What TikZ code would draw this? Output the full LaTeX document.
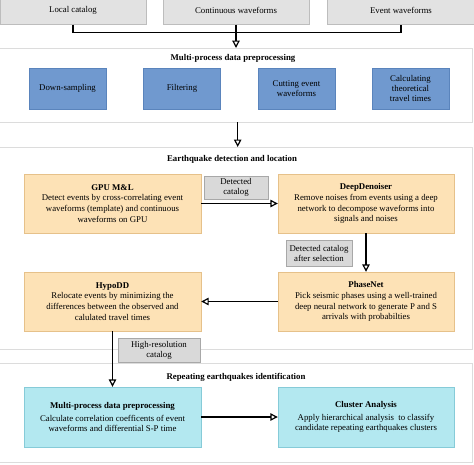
\documentclass[tikz,border=0pt]{standalone}
\usepackage{fontspec}
\setmainfont{Liberation Serif}
\usetikzlibrary{arrows.meta}
\definecolor{topfill}{HTML}{E2E2E2}
\definecolor{topdraw}{HTML}{BDBDBD}
\definecolor{bluefill}{HTML}{7099CF}
\definecolor{bluedraw}{HTML}{5A84BC}
\definecolor{orfill}{HTML}{FDE2B6}
\definecolor{ordraw}{HTML}{E6C18A}
\definecolor{cyfill}{HTML}{B3E8F0}
\definecolor{cydraw}{HTML}{86CBD8}
\definecolor{lblfill}{HTML}{D9D9D9}
\definecolor{lbldraw}{HTML}{A8A8A8}
\definecolor{paneldraw}{HTML}{DCDCDC}
\tikzset{
  every node/.style={font=\fontsize{8.8}{10.8}\selectfont, inner sep=1pt},
  topbox/.style={draw=topdraw, fill=topfill, minimum width=146pt, minimum height=29pt},
  panel/.style={draw=paneldraw, fill=white, anchor=north west},
  ptitle/.style={font=\fontsize{8.8}{10.8}\selectfont\bfseries},
  bluebox/.style={draw=bluedraw, fill=bluefill, minimum width=77pt, minimum height=41pt, align=center, font=\fontsize{8.8}{10.3}\selectfont},
  orbox/.style={draw=ordraw, fill=orfill, minimum width=177pt, minimum height=59pt, align=center},
  cybox/.style={draw=cydraw, fill=cyfill, minimum width=177pt, minimum height=60pt, align=center},
  lbl/.style={draw=lbldraw, fill=lblfill, minimum width=64pt, minimum height=23pt, align=center, font=\fontsize{8.8}{10}\selectfont},
  arr/.style={line width=1.5pt, -{Triangle[open,length=7.5pt,width=7.5pt,line width=1.2pt]}},
  ln/.style={line width=1.5pt}
}
\begin{document}
\begin{tikzpicture}[x=1pt,y=-1pt]
\useasboundingbox (0,0) rectangle (474,464);
\clip (0,0) rectangle (474,464);
% top inputs
\node[topbox] (local) at (73,10) {Local catalog};
\node[topbox] (cont) at (236,10) {Continuous waveforms};
\node[topbox, minimum width=148pt] (event) at (401,10) {Event waveforms};
% panel 1
\node[panel, minimum width=473pt, minimum height=74pt] (p1) at (-1,48) {};
\node[ptitle] (t1) at (233,58) {Multi-process data preprocessing};
\node[bluebox] (down) at (67.5,88.5) {Down-sampling};
\node[bluebox] (filt) at (182,88.5) {Filtering};
\node[bluebox] (cut) at (296.5,88.5) {Cutting event\\waveforms};
\node[bluebox] (calc) at (410.5,88.5) {Calculating\\theoretical\\travel times};
% panel 2
\node[panel, minimum width=473pt, minimum height=202pt] (p2) at (-1,147) {};
\node[ptitle] (t2) at (232,159) {Earthquake detection and location};
\node[orbox] (gpu) at (112.5,203.5) {\textbf{GPU M\&L}\\Detect events by cross-correlating event\\waveforms (template) and continuous\\waveforms on GPU};
\node[orbox, minimum width=176pt] (deep) at (366,203.5) {\textbf{DeepDenoiser}\\Remove noises from events using a deep\\network to decompose waveforms into\\signals and noises};
\node[orbox] (hypo) at (112.5,301.5) {\textbf{HypoDD}\\Relocate events by minimizing the\\differences between the observed and\\calulated travel times};
\node[orbox, minimum width=176pt] (phase) at (366,301.5) {\textbf{PhaseNet}\\Pick seismic phases using a well-trained\\deep neural network to generate P and S\\arrivals with probabilties};
\node[lbl] (l1) at (236,187.5) {Detected\\catalog};
\node[lbl, minimum width=66pt, minimum height=26pt] (l2) at (319,253) {Detected catalog\\after selection};
% panel 3
\node[panel, minimum width=473pt, minimum height=99pt] (p3) at (-1,363) {};
\node[ptitle] (t3) at (236,377) {Repeating earthquakes identification};
\node[cybox] (multi) at (112.5,417) {\textbf{Multi-process data preprocessing}\\[2pt]Calculate correlation coefficents of event\\waveforms and differential S-P time};
\node[cybox, minimum width=176pt] (clus) at (366,417) {\textbf{Cluster Analysis}\\[2pt]Apply hierarchical analysis\ \ to classify\\candidate repeating earthquakes clusters};
\node[lbl, minimum width=82pt, minimum height=24pt] (l3) at (159,350) {High-resolution\\catalog};
% connectors
\draw[ln] (local.south) -- ++(0,8) -| (event.south);
\draw[arr] (cont.south) -- (cont.south |- p1.north);
\draw[arr] (p1.south) ++(2,0) coordinate (a1) -- (a1 |- p2.north);
\draw[arr] (gpu.east) -- (deep.west);
\draw[arr] (deep.south) -- (phase.north);
\draw[arr] (phase.west) -- (hypo.east);
\draw[arr] (hypo.south) -- (multi.north);
\draw[arr] (multi.east) -- (clus.west);
\end{tikzpicture}
\end{document}
